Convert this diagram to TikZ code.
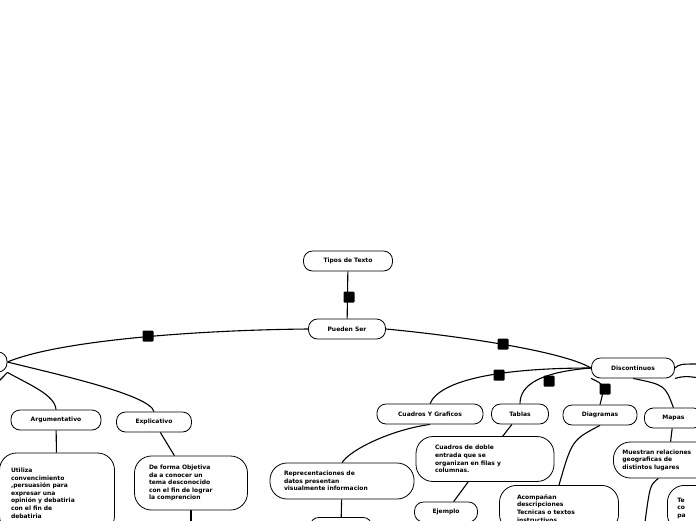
\documentclass[tikz,border=0pt]{standalone}
\usepackage{fontspec}
\setmainfont{DejaVu Sans}
\usetikzlibrary{backgrounds}
\begin{document}
\begin{tikzpicture}[x=1pt,y=-1pt,
  box/.style={draw,line width=0.8pt,rounded corners=9pt,fill=white,font=\bfseries\fontsize{6}{7.6}\selectfont,inner sep=0pt},
  tb/.style={box,align=left,rounded corners=17pt},
  ln/.style={line width=1.1pt},
  sq/.style={fill=black,minimum size=11pt,inner sep=0pt,rounded corners=1pt}]
\useasboundingbox (0,0) rectangle (696,520);
\clip (0,0) rectangle (696,520);
\coordinate (R1) at (700,364);
\coordinate (R2) at (700,378);
\coordinate (D1) at (-2,382);
\coordinate (E) at (191,522);
\coordinate (M) at (645,522);
\node[box,minimum width=89pt,minimum height=20pt] (tipos) at (348,261) {Tipos de Texto};
\node[box,minimum width=77pt,minimum height=20pt] (pueden) at (347,329) {Pueden Ser};
\node[box,minimum width=60pt,minimum height=20pt] (left) at (-23,362) {};
\node[box,minimum width=83pt,minimum height=20pt] (disc) at (633,368) {Discontinuos};
\node[box,minimum width=90pt,minimum height=20pt] (arg) at (56,420) {Argumentativo};
\node[box,minimum width=75pt,minimum height=20pt] (exp) at (154,422) {Explicativo};
\node[box,minimum width=106pt,minimum height=20pt] (cyg) at (430,414) {Cuadros Y Graficos};
\node[box,minimum width=57pt,minimum height=20pt] (tab) at (520,414) {Tablas};
\node[box,minimum width=74pt,minimum height=20pt] (dia) at (600,415) {Diagramas};
\node[box,minimum width=58pt,minimum height=20pt,anchor=west] (map) at (644,418) {Mapas};
\node[tb,minimum width=115pt,minimum height=80pt,text width=92pt] (uti) at (57,493) {Utiliza\\convencimiento\\,persuasión para\\expresar una\\opinión y debatiria\\con el fin de\\debatiria};
\node[tb,minimum width=113pt,minimum height=54pt,text width=84pt] (obj) at (191,483) {De forma Objetiva\\da a conocer un\\tema desconocido\\con el fin de lograr\\la comprencion};
\node[tb,minimum width=144pt,minimum height=36pt,text width=116pt] (rep) at (342,481) {Reprecentaciones de\\datos presentan\\visualmente informacion};
\node[tb,minimum width=138pt,minimum height=45pt,text width=100pt] (cdo) at (485,459) {Cuadros de doble\\entrada que se\\organizan en filas y\\columnas.};
\node[box,minimum width=63pt,minimum height=20pt] (ej) at (446,512) {Ejemplo};
\node[tb,minimum width=119pt,minimum height=46pt,text width=84pt,anchor=north] (aco) at (559,485) {Acompañan\\descripciones\\Tecnicas o textos\\instructivos};
\node[tb,minimum width=110pt,minimum height=36pt,text width=92pt,anchor=west] (mue) at (613,460) {Muestran relaciones\\geograficas de\\distintos lugares};
\node[tb,minimum width=60pt,minimum height=46pt,text width=40pt,anchor=north west] (te) at (667,485) {Te\\co\\pa};
\node[box,minimum width=62pt,minimum height=20pt,anchor=north] (rb) at (341,517) {};
\begin{scope}[on background layer]
\draw[ln] (tipos) -- (pueden);
\draw[ln] (pueden.west) .. controls (200,330) and (60,340) .. (left.east);
\draw[ln] (pueden.east) .. controls (450,335) and (560,350) .. (disc.west);
\draw[ln] (disc.east) .. controls (680,364) .. (R1);
\draw[ln] (disc.south east) .. controls (685,376) .. (R2);
\draw[ln] (left.south east) .. controls (4,376) .. (D1);
\draw[ln] (left.south east) .. controls (30,385) and (55,395) .. (arg.north);
\draw[ln] (left.east) .. controls (60,375) and (150,395) .. (exp.north);
\draw[ln] (arg) -- (uti);
\draw[ln] (exp) -- (obj);
\draw[ln] (obj) -- (E);
\draw[ln] (disc.west) .. controls (500,368) and (440,380) .. (cyg.north);
\draw[ln] (disc.west) .. controls (540,372) and (520,385) .. (tab.north);
\draw[ln] (disc.south west) .. controls (605,385) .. (dia.north);
\draw[ln] (disc.south) .. controls (665,385) .. (map.north);
\draw[ln] (cyg.south) .. controls (390,430) and (350,450) .. (rep.north);
\draw[ln] (tab) -- (cdo);
\draw[ln] (cdo) -- (ej);
\draw[ln] (dia.south) .. controls (572,440) .. (aco.north);
\draw[ln] (map) -- (mue);
\draw[ln] (rep) -- (rb);
\draw[ln] (mue.south) ++(-10,0) .. controls (650,485) .. (M);
\end{scope}
\node[sq] at (349,297) {};
\node[sq] at (148,336) {};
\node[sq] at (503,344) {};
\node[sq] at (499,375) {};
\node[sq] at (549,381) {};
\node[sq] at (605,389) {};
\end{tikzpicture}
\end{document}
